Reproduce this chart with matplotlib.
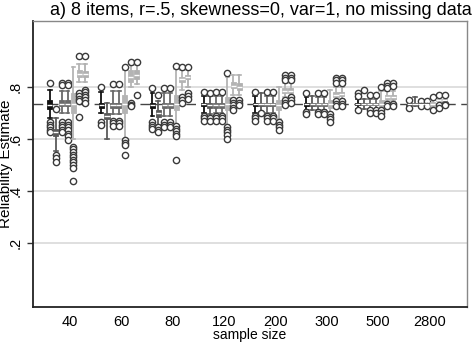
import numpy as np
from matplotlib import pyplot as plt

plt.rcParams['font.family'] = ['Liberation Sans', 'DejaVu Sans']

groups = ['40', '60', '80', '120', '200', '300', '500', '2800']
method_colors = ['#111111', '#5a5a5a', '#6a6a6a', '#6a6a6a', '#b4b4b4', '#b4b4b4', '#b0b0b0']
true_value = 0.735

# one row per method, one column per sample size
whisk_lo = [
    [.68, .70, .69, .70, .70, .71, .715, .725],
    [.555, .60, .655, .695, .705, .71, .715, .725],
    [.70, .695, .69, .70, .70, .71, .715, .728],
    [.70, .695, .69, .70, .70, .71, .715, .728],
    [.60, .60, .655, .655, .675, .70, .72, .72],
    [.82, .80, .79, .77, .76, .75, .745, .735],
    [.82, .81, .80, .77, .765, .755, .745, .74],
]
box_q1 = [
    [.715, .72, .72, .725, .725, .727, .73, .73],
    [.61, .675, .685, .72, .725, .728, .73, .732],
    [.725, .72, .72, .72, .725, .727, .73, .732],
    [.725, .72, .72, .72, .725, .727, .73, .732],
    [.70, .70, .71, .71, .71, .72, .725, .728],
    [.84, .82, .82, .795, .775, .76, .755, .745],
    [.84, .83, .83, .79, .775, .765, .755, .745],
]
box_med = [
    [.73, .73, .73, .733, .733, .733, .735, .734],
    [.625, .69, .70, .73, .733, .734, .735, .736],
    [.735, .73, .73, .73, .733, .733, .735, .735],
    [.735, .73, .73, .73, .733, .733, .735, .735],
    [.735, .735, .735, .735, .73, .733, .735, .735],
    [.85, .84, .83, .805, .785, .77, .762, .75],
    [.85, .845, .838, .80, .785, .772, .762, .75],
]
box_q3 = [
    [.75, .74, .74, .74, .74, .74, .74, .74],
    [.64, .70, .71, .74, .74, .74, .74, .74],
    [.75, .74, .74, .74, .74, .74, .74, .74],
    [.75, .74, .74, .74, .74, .74, .74, .74],
    [.775, .77, .77, .76, .75, .75, .75, .742],
    [.865, .865, .84, .82, .795, .78, .77, .755],
    [.86, .865, .845, .815, .795, .78, .77, .755],
]
whisk_hi = [
    [.79, .78, .775, .765, .765, .76, .755, .745],
    [.68, .74, .745, .765, .775, .765, .755, .76],
    [.785, .785, .775, .765, .765, .76, .755, .743],
    [.785, .785, .775, .765, .765, .76, .755, .743],
    [.875, .865, .87, .84, .80, .79, .785, .75],
    [.89, .885, .865, .845, .815, .80, .785, .765],
    [.89, .885, .865, .845, .815, .80, .785, .765],
]
outliers = [
    [[.815, .665, .655, .645, .635, .625], [.80, .665, .655], [.795, .665, .655, .645, .64],
     [.78, .69, .68, .67], [.78, .69, .68, .67], [.775, .705, .695], [.775, .765, .71], [.75, .72]],
    [[.715, .54, .525, .51], [], [.77, .645, .635, .625], [.775, .68, .67], [.70], [], [.79], []],
    [[.815, .808, .665, .655, .645, .635, .625], [.81, .67, .66, .65], [.795, .665, .655, .645],
     [.78, .69, .68, .67], [.78, .69, .68, .67], [.775, .705, .695], [.77, .71, .70], [.745, .725]],
    [[.815, .808, .665, .655, .645, .635, .62, .61, .595], [.81, .67, .66, .65],
     [.795, .665, .655, .645], [.78, .69, .68, .67], [.78, .69, .68, .67], [.775, .705, .695],
     [.77, .71, .70], [.745, .725]],
    [[.57, .56, .55, .54, .53, .52, .51, .50, .49, .44], [.877, .595, .585, .575, .54],
     [.88, .65, .64, .63, .62, .61, .52], [.855, .645, .635, .625, .615, .60],
     [.665, .655, .645, .635], [.695, .685, .675, .665], [.80, .71, .70, .69], [.76, .71]],
    [[.92, .775, .765, .755, .745, .685], [.895, .74, .73, .725], [.877, .76, .75, .74],
     [.75, .74, .73, .72, .71], [.845, .835, .825, .75, .74, .73], [.835, .825, .815, .745, .735, .725],
     [.815, .805, .795, .735, .725], [.77, .73, .72]],
    [[.92, .79, .78, .77, .76, .75, .74], [.895, .77], [.877, .775, .765, .755],
     [.75, .74, .73], [.845, .835, .825, .76, .75, .74], [.835, .825, .815, .745, .735, .725],
     [.815, .805, .735, .725], [.77, .735, .73]],
]

fig = plt.figure(figsize=(4.74, 3.43), dpi=100)
ax = fig.add_axes([0.0696, 0.105, 0.9154, 0.834])

for y in [.2, .4, .6, .8]:
    ax.axhline(y, color='#dcdcdc', lw=1.3, zorder=0)
ax.axhline(true_value, color='#444444', lw=1.0, dashes=(7, 4), zorder=1)

n_methods = len(method_colors)
step = 0.115
for m in range(n_methods):
    stats = []
    for g in range(len(groups)):
        stats.append(dict(med=box_med[m][g], q1=box_q1[m][g], q3=box_q3[m][g],
                          whislo=whisk_lo[m][g], whishi=whisk_hi[m][g],
                          fliers=outliers[m][g]))
    pos = np.arange(1, len(groups) + 1) + (m - 3) * step - 0.05
    c = method_colors[m]
    ax.bxp(stats, positions=pos, widths=0.1, capwidths=0.075, patch_artist=True,
           boxprops=dict(facecolor=c, edgecolor=c, lw=0.6),
           medianprops=dict(color='white', lw=1.0),
           whiskerprops=dict(color=c, lw=1.3),
           capprops=dict(color=c, lw=1.2),
           flierprops=dict(marker='o', markersize=4.5, markerfacecolor='white',
                           markeredgecolor='#3a3a3a', markeredgewidth=1.0),
           manage_ticks=False, zorder=3)

ax.set_xlim(0.277, 8.73)
ax.set_ylim(-0.046, 1.054)
ax.set_xticks(np.arange(1, len(groups) + 1))
ax.set_xticklabels(groups, fontsize=10.5)
ax.tick_params(axis='x', length=0, pad=6)
ax.set_yticks([.2, .4, .6, .8])
ax.set_yticklabels(['.2', '.4', '.6', '.8'], rotation=90, va='center', fontsize=10.5)
ax.tick_params(axis='y', length=4.5, width=1, color='#333333', pad=3)
ax.set_xlabel('sample size', fontsize=10, labelpad=-1)
ax.set_ylabel('Reliability Estimate', fontsize=11)
ax.yaxis.set_label_coords(-0.047, 0.5)

for s in ['left', 'bottom']:
    ax.spines[s].set_color('#222222')
    ax.spines[s].set_linewidth(1.3)
for s in ['top', 'right']:
    ax.spines[s].set_color('#888888')
    ax.spines[s].set_linewidth(1.0)

fig.text(472 / 474, 0.968, 'a) 8 items, r=.5, skewness=0, var=1, no missing data',
         fontsize=13, va='center', ha='right')

fig.savefig('out.png', dpi=100)
